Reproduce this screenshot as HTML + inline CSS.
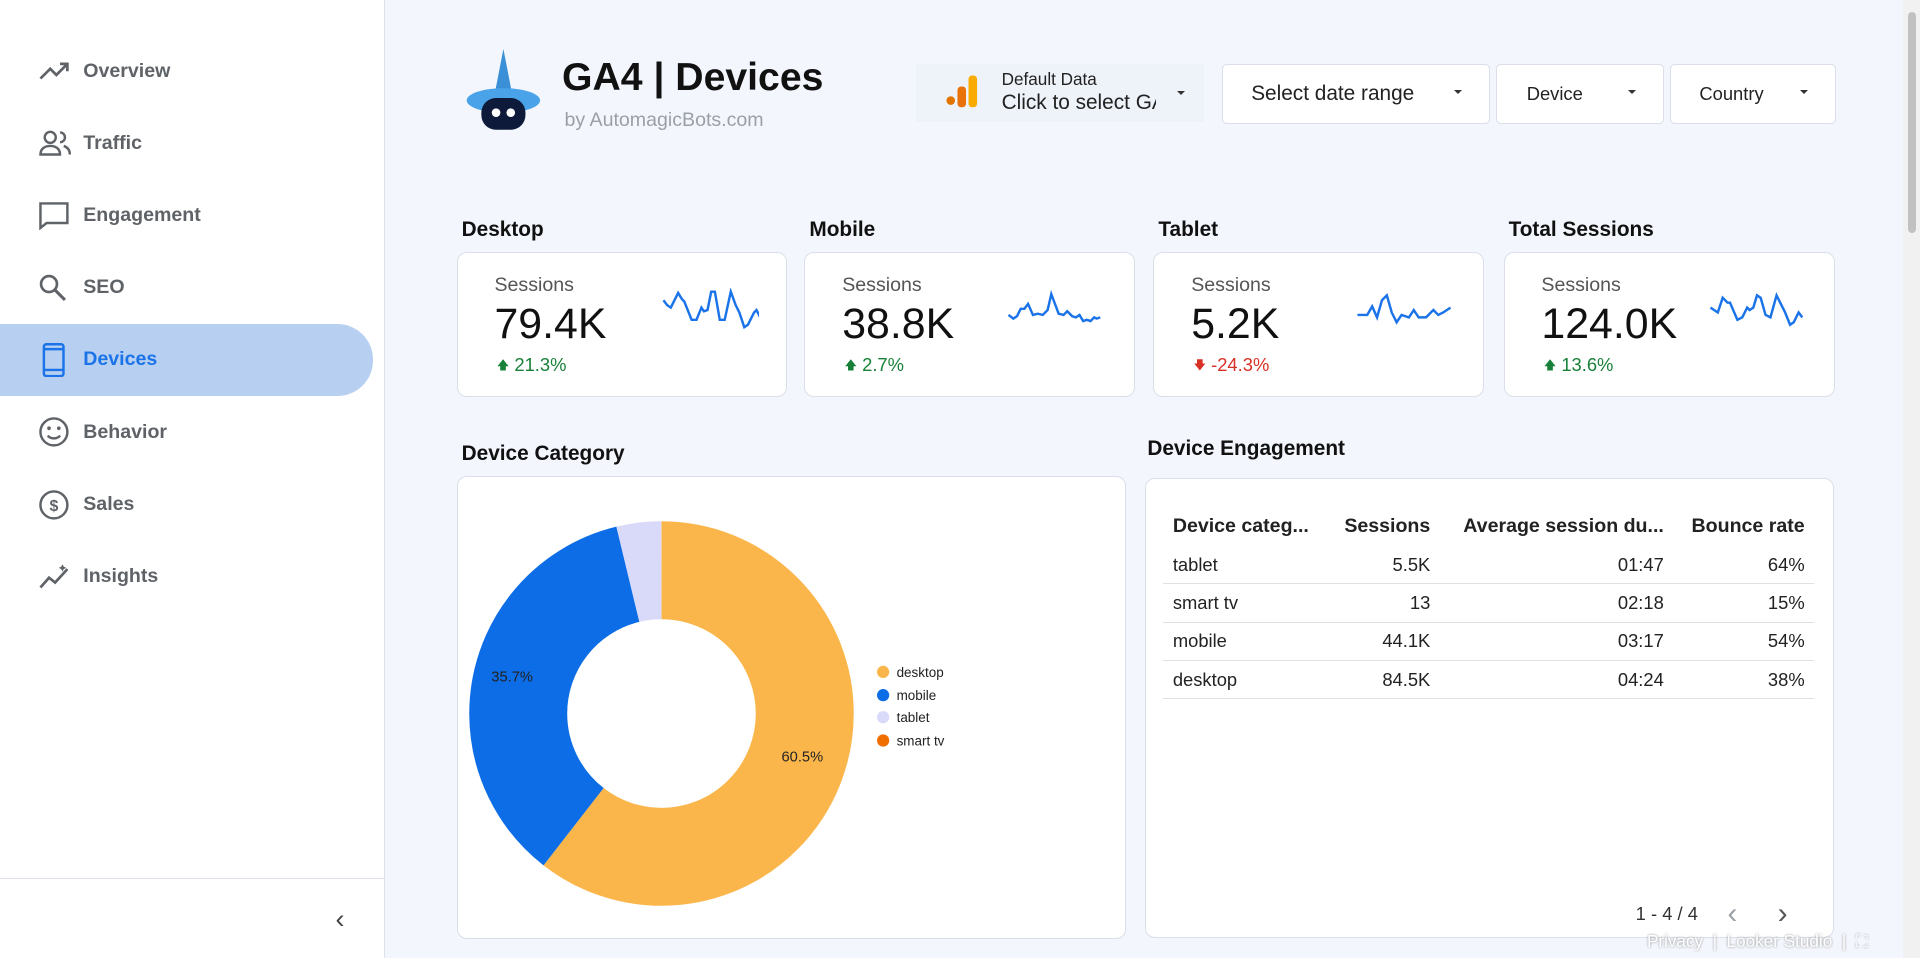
<!DOCTYPE html>
<html><head><meta charset="utf-8"><style>
html,body{margin:0;padding:0;overflow:hidden}
body{width:1568px;height:782px;zoom:1.22449;background:#f3f6fd;font-family:"Liberation Sans",sans-serif;position:relative}
.abs{position:absolute}
#side{left:0;top:0;width:314px;height:782px;background:#fff;border-right:1px solid #dde1e8}
.nav{position:absolute;left:0;width:305px;height:58px;display:flex;align-items:center;font-size:16px;font-weight:bold;color:#5f6368}
.nav svg{position:absolute;left:31px}
.nav span{position:absolute;left:68px}
.nav.act{background:#b7d0f1;border-radius:0 29px 29px 0;color:#1a73e8}
.card{position:absolute;background:#fff;border:1px solid #dadfe8;border-radius:8px}
.ktitle{position:absolute;font-size:17px;font-weight:bold;color:#111}
.lbl{position:absolute;left:30px;top:17px;font-size:16px;color:#555}
.val{position:absolute;left:30px;top:38px;font-size:35px;color:#111}
.chg{position:absolute;left:32px;top:82px;font-size:15px}
.chg b{font-size:10px;font-weight:normal;display:inline-block;margin-right:4px;vertical-align:1px}
.btn{position:absolute;top:52px;height:48px;background:#fff;border:1px solid #dadfe8;border-radius:4px;font-size:16px;color:#222;display:flex;align-items:center}
.btn i{position:absolute;right:22px;top:21px;border-left:4px solid transparent;border-right:4px solid transparent;border-top:4px solid #333}
table{border-collapse:collapse;font-size:15px;color:#222}
td,th{height:30.5px;padding:0 8px;border-bottom:1px solid #e0e0e0}
th{font-weight:bold;font-size:16px;border:none;height:32px}
</style></head><body>
<div id="side" class="abs">
 <div class="nav" style="top:29px"><svg width="26" height="20" viewBox="0 0 26 20"><path d="M2 16l8-8 5 5 9-9M18 4h6v6" fill="none" stroke="#5f6368" stroke-width="2.2"/></svg><span>Overview</span></div>
 <div class="nav" style="top:88px"><svg width="28" height="22" viewBox="0 0 28 22"><circle cx="10" cy="6" r="4.5" fill="none" stroke="#5f6368" stroke-width="2"/><path d="M2 20c0-5 4-7 8-7s8 2 8 7z" fill="none" stroke="#5f6368" stroke-width="2"/><path d="M18 2a4 4 0 010 8M21 13c3 1 5 3 5 7" fill="none" stroke="#5f6368" stroke-width="2"/></svg><span>Traffic</span></div>
 <div class="nav" style="top:147px"><svg width="26" height="24" viewBox="0 0 26 24"><path d="M2 2h22v16H7l-5 4z" fill="none" stroke="#5f6368" stroke-width="2"/></svg><span>Engagement</span></div>
 <div class="nav" style="top:206px"><svg width="24" height="24" viewBox="0 0 24 24"><circle cx="9" cy="9" r="6.5" fill="none" stroke="#5f6368" stroke-width="2.2"/><path d="M14 14l8 8" stroke="#5f6368" stroke-width="2.5"/></svg><span>SEO</span></div>
 <div class="nav act" style="top:265px"><svg width="24" height="28" viewBox="0 0 24 28" style="left:32px"><rect x="4" y="1" width="16" height="26" rx="2" fill="none" stroke="#1a73e8" stroke-width="2"/><path d="M4 5h16M4 22h16" stroke="#1a73e8" stroke-width="2"/></svg><span>Devices</span></div>
 <div class="nav" style="top:324px"><svg width="26" height="26" viewBox="0 0 26 26"><circle cx="13" cy="13" r="11" fill="none" stroke="#5f6368" stroke-width="2"/><circle cx="9" cy="10" r="1.5" fill="#5f6368"/><circle cx="17" cy="10" r="1.5" fill="#5f6368"/><path d="M8 16c2 3 8 3 10 0" fill="none" stroke="#5f6368" stroke-width="2"/></svg><span>Behavior</span></div>
 <div class="nav" style="top:383px"><svg width="26" height="26" viewBox="0 0 26 26"><circle cx="13" cy="13" r="11" fill="none" stroke="#5f6368" stroke-width="2"/><text x="13" y="18" font-size="13" font-weight="bold" text-anchor="middle" fill="#5f6368" font-family="Liberation Sans">$</text></svg><span>Sales</span></div>
 <div class="nav" style="top:442px"><svg width="28" height="22" viewBox="0 0 28 22"><path d="M2 20l7-8 5 4 10-11" fill="none" stroke="#5f6368" stroke-width="2.2"/><path d="M20 1l1 2 2 1-2 1-1 2-1-2-2-1 2-1z" fill="#5f6368"/></svg><span>Insights</span></div>
 <div class="abs" style="left:0;top:717px;width:314px;border-top:1px solid #dde1e8"></div>
 <div class="abs" style="left:274px;top:738px;font-size:22px;color:#444">&#8249;</div>
</div>

<svg class="abs" style="left:378px;top:40px" width="66" height="70" viewBox="0 0 66 70">
 <path d="M33 0l-7 36h14z" fill="#3a8fd6"/>
 <ellipse cx="33" cy="42" rx="30" ry="10" fill="#4aa3e8"/>
 <rect x="15" y="40" width="36" height="26" rx="12" fill="#0e1a3a"/>
 <circle cx="27" cy="52" r="3.5" fill="#fff"/><circle cx="39" cy="52" r="3.5" fill="#fff"/>
</svg>
<div class="abs" style="left:459px;top:46px;font-size:32px;font-weight:bold;color:#111">GA4 | Devices</div>
<div class="abs" style="left:461px;top:89px;font-size:16px;color:#9aa0a6">by AutomagicBots.com</div>

<div class="abs" style="left:748px;top:52px;width:235px;height:48px;background:#eef2f9"></div>
<svg class="abs" style="left:771px;top:60px" width="30" height="30"><rect x="2" y="19" width="7" height="7" rx="3.5" fill="#e37400"/><rect x="11" y="11" width="7" height="17" rx="3" fill="#e8710a"/><rect x="20" y="2" width="7" height="26" rx="3" fill="#f9ab00"/></svg>
<div class="abs" style="left:818px;top:56px;font-size:14px;color:#222">Default Data</div>
<div class="abs" style="left:818px;top:74px;font-size:17px;color:#222;width:126px;overflow:hidden;white-space:nowrap">Click to select GA4</div>
<div class="abs" style="left:961px;top:74px;border-left:4px solid transparent;border-right:4px solid transparent;border-top:4px solid #333"></div>

<div class="btn" style="left:998px;width:217px"><span style="margin-left:23px;font-size:17px">Select date range</span><i></i></div>
<div class="btn" style="left:1222px;width:135px"><span style="margin-left:24px;font-size:15px">Device</span><i></i></div>
<div class="btn" style="left:1364px;width:134px"><span style="margin-left:23px;font-size:15px">Country</span><i></i></div>

<div class="ktitle" style="left:377px;top:178px">Desktop</div>
<div class="ktitle" style="left:661px;top:178px">Mobile</div>
<div class="ktitle" style="left:946px;top:178px">Tablet</div>
<div class="ktitle" style="left:1232px;top:178px">Total Sessions</div>

<div class="card" style="left:373px;top:206px;width:268px;height:117px">
 <div class="lbl">Sessions</div><div class="val">79.4K</div><div class="chg" style="color:#188038"><b>&#129093;</b>21.3%</div>
 <svg class="abs" style="left:166px;top:28px" width="80" height="44"><polyline fill="none" stroke="#1a73e8" stroke-width="2" points="2,10 5,14 8,16 14,4 17,9 19,11 25,26 29,26 33,16 35,19 38,18 41,3 44,3 48,26 52,26 57,3 61,14 64,20 68,32 71,30 76,20 78,18 82,26"/></svg>
</div>
<div class="card" style="left:657px;top:206px;width:268px;height:117px">
 <div class="lbl">Sessions</div><div class="val">38.8K</div><div class="chg" style="color:#188038"><b>&#129093;</b>2.7%</div>
 <svg class="abs" style="left:164px;top:28px" width="80" height="44"><polyline fill="none" stroke="#1a73e8" stroke-width="2" points="2,22 6,25 9,23 12,17 15,17 18,13 22,22 26,21 30,22 34,18 37,5 40,13 43,21 47,22 50,19 54,23 57,24 60,22 63,27 66,26 69,27 72,24 74,25 77,24"/></svg>
</div>
<div class="card" style="left:942px;top:206px;width:268px;height:117px">
 <div class="lbl">Sessions</div><div class="val">5.2K</div><div class="chg" style="color:#d93025"><b>&#129095;</b>-24.3%</div>
 <svg class="abs" style="left:164px;top:28px" width="80" height="44"><polyline fill="none" stroke="#1a73e8" stroke-width="2" points="2,22 10,22 14,15 18,24 22,10 26,6 30,20 34,28 38,22 44,24 48,18 52,24 58,24 64,18 68,22 72,20 78,16"/></svg>
</div>
<div class="card" style="left:1228px;top:206px;width:269px;height:117px">
 <div class="lbl">Sessions</div><div class="val">124.0K</div><div class="chg" style="color:#188038"><b>&#129093;</b>13.6%</div>
 <svg class="abs" style="left:166px;top:28px" width="80" height="44"><polyline fill="none" stroke="#1a73e8" stroke-width="2" points="2,16 5,18 8,20 12,8 16,12 18,12 24,26 28,24 32,16 34,18 37,16 40,6 43,8 47,22 51,24 56,6 60,14 63,20 67,30 70,28 74,20 77,24"/></svg>
</div>

<div class="ktitle" style="left:377px;top:361px">Device Category</div>
<div class="card" style="left:373px;top:389px;width:545px;height:376px"></div>
<svg class="abs" style="left:373px;top:389px" width="545" height="376">
 <g transform="translate(167,194) rotate(-90)">
  <circle r="117" fill="none" stroke="#fbb64b" stroke-width="80" stroke-dasharray="444.7 735.1"/>
  <circle r="117" fill="none" stroke="#0c6de6" stroke-width="80" stroke-dasharray="0 444.7 262.4 735.1"/>
  <circle r="117" fill="none" stroke="#d9dafa" stroke-width="80" stroke-dasharray="0 707.1 27.6 735.1"/>
 </g>
 <text x="28" y="168" font-size="12" fill="#222" font-family="Liberation Sans">35.7%</text>
 <text x="265" y="233" font-size="12" fill="#222" font-family="Liberation Sans">60.5%</text>
 <circle cx="348" cy="160" r="5" fill="#fbb64b"/><text x="359" y="164" font-size="11" fill="#222" font-family="Liberation Sans">desktop</text>
 <circle cx="348" cy="179" r="5" fill="#0c6de6"/><text x="359" y="183" font-size="11" fill="#222" font-family="Liberation Sans">mobile</text>
 <circle cx="348" cy="197" r="5" fill="#d9dafa"/><text x="359" y="201" font-size="11" fill="#222" font-family="Liberation Sans">tablet</text>
 <circle cx="348" cy="216" r="5" fill="#f06d00"/><text x="359" y="220" font-size="11" fill="#222" font-family="Liberation Sans">smart tv</text>
</svg>

<div class="ktitle" style="left:937px;top:357px">Device Engagement</div>
<div class="card" style="left:935px;top:390px;width:561px;height:374px">
 <table style="position:absolute;left:14px;top:23px;width:532px">
  <tr><th style="text-align:left">Device categ...</th><th style="text-align:right">Sessions</th><th style="text-align:right">Average session du...</th><th style="text-align:right">Bounce rate</th></tr>
  <tr><td>tablet</td><td align="right">5.5K</td><td align="right">01:47</td><td align="right">64%</td></tr>
  <tr><td>smart tv</td><td align="right">13</td><td align="right">02:18</td><td align="right">15%</td></tr>
  <tr><td>mobile</td><td align="right">44.1K</td><td align="right">03:17</td><td align="right">54%</td></tr>
  <tr><td>desktop</td><td align="right">84.5K</td><td align="right">04:24</td><td align="right">38%</td></tr>
 </table>
 <div class="abs" style="left:400px;top:347px;font-size:15px;color:#333">1 - 4 / 4</div>
 <div class="abs" style="left:475px;top:342px;font-size:24px;color:#9aa0a6">&#8249;</div>
 <div class="abs" style="left:516px;top:342px;font-size:24px;color:#555">&#8250;</div>
</div>

<div class="abs" style="left:1345px;top:760px;font-size:14px;color:#fff;text-shadow:0 0 2px #888">Privacy &nbsp;|&nbsp; Looker Studio &nbsp;|&nbsp; &#x26F6;</div>
<div class="abs" style="left:1554px;top:0;width:14px;height:782px;background:#f1f1f1"></div>
<div class="abs" style="left:1558px;top:10px;width:7px;height:180px;background:#c1c1c1;border-radius:4px"></div>
</body></html>
